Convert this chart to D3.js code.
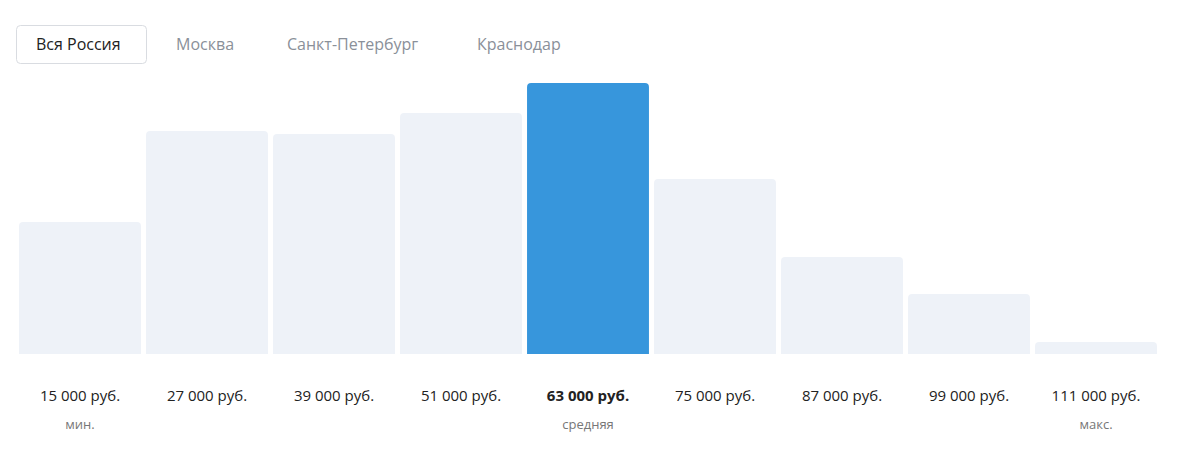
<!DOCTYPE html>
<html>
<head>
<meta charset="utf-8">
<style>
  body { margin: 0; background: #fff; font-family: 'Open Sans', sans-serif; }
  svg { display: block; }
  .tab { font-size: 16px; fill: #8a9099; }
  .tab.active { fill: #222; }
  .label { font-size: 15px; fill: #222; text-anchor: middle; }
  .label.bold { font-weight: 700; }
  .sub { font-size: 13px; fill: #777; text-anchor: middle; }
</style>
</head>
<body>
<svg width="1200" height="452"></svg>
<script src="https://d3js.org/d3.v7.min.js"></script>
<script>
  let tabs = ["Вся Россия", "Москва", "Санкт-Петербург", "Краснодар"]
  let tabX = [36, 176, 287, 477]
  let salaries = ["15 000 руб.", "27 000 руб.", "39 000 руб.", "51 000 руб.", "63 000 руб.", "75 000 руб.", "87 000 руб.", "99 000 руб.", "111 000 руб."]
  let counts = [132, 223, 220, 241, 271, 175, 97, 60, 12]
  let notes = ["мин.", "", "", "", "средняя", "", "", "", "макс."]
  let highlight = 4

  let svg = d3.select("svg")

  // tabs
  svg.append("rect")
    .attr("x", 16.5).attr("y", 25.5).attr("width", 130).attr("height", 38)
    .attr("rx", 4).attr("fill", "#fff").attr("stroke", "#d9dce1")
  svg.selectAll(".tab").data(tabs).join("text")
    .attr("class", (d, i) => i === 0 ? "tab active" : "tab")
    .attr("x", (d, i) => tabX[i]).attr("y", 50)
    .text(d => d)

  let x = d3.scaleBand().domain(salaries).range([16.5, 1159.5]).paddingInner(0.04).paddingOuter(0.02)
  let y = d3.scaleLinear().domain([0, 271]).range([354, 83])

  svg.append("g").selectAll("path").data(counts).join("path")
    .attr("fill", (d, i) => i === highlight ? "#3796dc" : "#eef2f8")
    .attr("d", (d, i) => {
      let x0 = x(salaries[i]), w = x.bandwidth(), t = y(d), b = y(0), r = 4
      return `M${x0},${b}V${t + r}Q${x0},${t} ${x0 + r},${t}H${x0 + w - r}Q${x0 + w},${t} ${x0 + w},${t + r}V${b}Z`
    })

  svg.append("g").selectAll("text").data(salaries).join("text")
    .attr("class", (d, i) => i === highlight ? "label bold" : "label")
    .attr("x", d => x(d) + x.bandwidth() / 2).attr("y", 401)
    .text(d => d)

  svg.append("g").selectAll("text").data(notes).join("text")
    .attr("class", "sub")
    .attr("x", (d, i) => x(salaries[i]) + x.bandwidth() / 2).attr("y", 429)
    .text(d => d)
</script>
</body>
</html>
